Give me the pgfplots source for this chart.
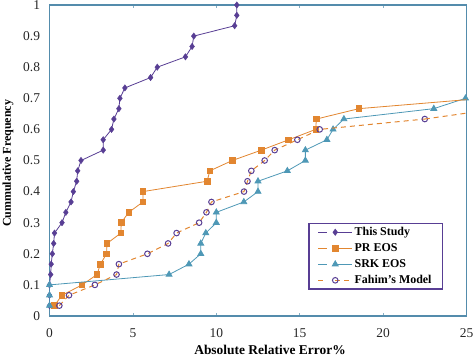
\documentclass[border=0pt]{standalone}
\usepackage{fontspec}
\setmainfont{Liberation Serif}
\usepackage{pgfplots}
\pgfplotsset{compat=1.18}
\definecolor{frame}{RGB}{84,140,172}
\definecolor{cstudy}{RGB}{88,62,148}
\definecolor{cpr}{RGB}{226,134,48}
\definecolor{csrk}{RGB}{78,152,182}
\begin{document}
\begin{tikzpicture}
\useasboundingbox (-49.5bp,-47bp) rectangle (424.5bp,316bp);
\begin{axis}[
  at={(0,0)}, anchor=south west,
  scale only axis, width=417bp, height=311bp,
  xmin=0, xmax=25, ymin=0, ymax=1,
  xtick={0,5,...,25}, ytick={0,0.1,...,1},
  yticklabels={0,0.1,0.2,0.3,0.4,0.5,0.6,0.7,0.8,0.9,1},
  axis line style={draw=frame, line width=1.6bp},
  tick align=inside, major tick length=3bp,
  xtick style={draw=frame!70, line width=0.5bp},
  ytick style={draw=none},
  /pgf/number format/assume math mode=true,
  ticklabel style={font=\fontsize{13.5}{15}\selectfont, text=black!85},
  xticklabel style={yshift=-9bp},
  yticklabel style={xshift=-6bp},
  clip mode=individual,
  legend style={at={(0.62,0.0836)}, anchor=south west, draw=cstudy, line width=1.6bp,
    font=\fontsize{12}{14}\selectfont\bfseries, row sep=2.5bp, inner xsep=9bp, inner ysep=2bp,
    cells={anchor=west}, /tikz/every even column/.append style={column sep=1bp}},
  legend image post style={line width=0.8bp},
  legend image code/.code={\draw[#1] (0cm,0cm) -- (0.3cm,0cm) plot coordinates {(0.6cm,0cm)} -- (1.2cm,0cm);},
]
\addplot[color=cstudy, line width=0.8bp, mark=diamond*, mark size=3.2bp, mark options={fill=cstudy, draw=cstudy, line width=0.4bp}]
coordinates {(0,0.0333)(0,0.0667)(0,0.1)(0.07,0.1333)(0.1,0.1667)(0.17,0.2)(0.25,0.2333)(0.3,0.2667)(0.75,0.3)(0.98,0.3333)(1.29,0.3667)(1.43,0.4)(1.63,0.4333)(1.69,0.4667)(1.89,0.5)(3.22,0.5333)(3.22,0.5667)(3.72,0.6)(3.86,0.6333)(4.16,0.6667)(4.22,0.7)(4.52,0.7333)(6.06,0.7667)(6.46,0.8)(8.15,0.8333)(8.55,0.8667)(8.65,0.9)(11.1,0.9333)(11.23,0.9667)(11.23,1)};
\addlegendentry{This Study}
\addplot[color=cpr, line width=0.8bp, mark=square*, mark size=2.8bp, mark options={fill=cpr, draw=cpr}]
coordinates {(0.29,0.0333)(0.75,0.0667)(1.95,0.1)(2.85,0.1333)(3.05,0.1667)(3.42,0.2)(3.45,0.2333)(4.28,0.2667)(4.3,0.3)(4.75,0.3333)(5.6,0.3667)(5.6,0.4)(9.45,0.4333)(9.61,0.4667)(10.96,0.5)(12.7,0.5333)(14.34,0.5667)(15.96,0.6)(16.0,0.6333)(18.55,0.6667)};
\addlegendentry{PR EOS}
\addplot[color=csrk, line width=0.8bp, mark=triangle*, mark size=3.4bp, mark options={fill=csrk, draw=csrk}]
coordinates {(0,0.0333)(0,0.0667)(0,0.1)(7.17,0.1333)(8.36,0.1667)(9.07,0.2)(9.07,0.2333)(9.37,0.2667)(10.0,0.3)(10.0,0.3333)(11.65,0.3667)(12.5,0.4)(12.5,0.4333)(14.26,0.4667)(15.34,0.5)(15.34,0.5333)(16.63,0.5667)(17.0,0.6)(17.65,0.6333)(23.04,0.6667)(24.94,0.7)};
\addlegendentry{SRK EOS}
\addplot[color=cpr, dash pattern=on 5bp off 4bp, line width=1bp, mark=o, mark size=2.8bp, mark options={draw=cstudy, fill=white, solid, line width=1bp}]
coordinates {(0.59,0.0333)(1.17,0.0667)(2.72,0.1)(4.02,0.1333)(4.16,0.1667)(5.87,0.2)(7.11,0.2333)(7.62,0.2667)(8.97,0.3)(9.41,0.3333)(9.71,0.3667)(11.66,0.4)(11.87,0.4333)(12.1,0.4667)(12.9,0.5)(13.5,0.5333)(14.86,0.5667)(16.2,0.6)(22.5,0.6333)};
\addlegendentry{Fahim's Model}
\addplot[forget plot, color=cpr, line width=0.8bp] coordinates {(18.55,0.6667)(26,0.7)};
\addplot[forget plot, color=cpr, dash pattern=on 5bp off 4bp, line width=1bp] coordinates {(22.5,0.6333)(26.9,0.6667)};
\end{axis}
\node[font=\fontsize{13.5}{15}\selectfont, anchor=center] at (220.5bp,-34bp) {\textbf{Absolute Relative Error\%}};
\node[font=\fontsize{12}{14}\selectfont, anchor=center, rotate=90] at (-41.5bp,152.5bp) {\textbf{Cummulative Frequency}};
\end{tikzpicture}
\end{document}
